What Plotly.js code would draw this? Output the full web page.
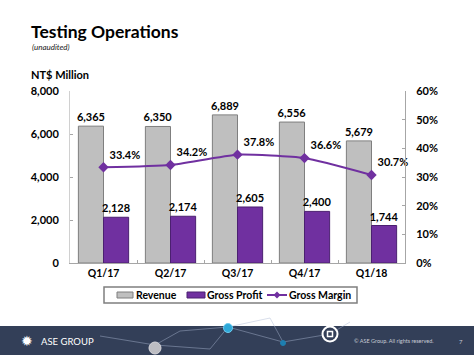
<!DOCTYPE html>
<html>
<head>
<meta charset="utf-8">
<script src="https://cdn.plot.ly/plotly-3.0.1.min.js"></script>
<style>html,body{margin:0;padding:0;background:#fff;}#chart{width:474px;height:355px;}</style>
</head>
<body>
<div id="chart"></div>
<script>
const quarters = ["Q1/17", "Q2/17", "Q3/17", "Q4/17", "Q1/18"];
const revenue = [6365, 6350, 6889, 6556, 5679];
const grossProfit = [2128, 2174, 2605, 2400, 1744];
const grossMargin = [0.334, 0.342, 0.378, 0.366, 0.307];
const seriesNames = ["Revenue", "Gross Profit", "Gross Margin"];

const W = 474, H = 355;
const M = {l: 70, r: 69, t: 91, b: 92};
const PW = W - M.l - M.r, PH = H - M.t - M.b;
function px(x) { return (x - M.l) / PW; }
function py(y) { return (H - M.b - y) / PH; }

const FONT = "Lato, 'Open Sans', sans-serif";
const GRAY = "#BFBFBF", GRAY_LINE = "#7F7F7F", PURPLE = "#7030A0", PURPLE_LINE = "#4B2070";

const traces = [
  {
    type: "bar", name: seriesNames[0], x: quarters, y: revenue,
    marker: {color: GRAY, line: {color: GRAY_LINE, width: 1}},
    text: revenue.map(v => v.toLocaleString("en-US")),
    textposition: "outside", constraintext: "none", cliponaxis: false,
    textfont: {family: FONT, size: 11, color: "#000", weight: 700},
    hoverinfo: "skip", showlegend: false
  },
  {
    type: "bar", name: seriesNames[1], x: quarters, y: grossProfit,
    marker: {color: PURPLE, line: {color: PURPLE_LINE, width: 1}},
    text: grossProfit.map(v => v.toLocaleString("en-US")),
    textposition: "outside", constraintext: "none", cliponaxis: false,
    textfont: {family: FONT, size: 11, color: "#000", weight: 700},
    hoverinfo: "skip", showlegend: false
  },
  {
    type: "scatter", mode: "lines+markers+text", name: seriesNames[2],
    x: quarters, y: grossMargin, yaxis: "y2",
    line: {color: PURPLE, width: 2, shape: "spline", smoothing: 0.5},
    marker: {symbol: "diamond", size: 8, color: PURPLE},
    text: grossMargin.map(v => (v * 100).toFixed(1) + "%"),
    textposition: "top right", cliponaxis: false,
    textfont: {family: FONT, size: 11, color: "#000", weight: 700},
    hoverinfo: "skip", showlegend: false
  }
];

function P(fn) { return Object.assign({xref: "paper", yref: "paper"}, fn); }

const shapes = [
  // footer band
  P({type: "rect", x0: px(0), x1: px(W), y0: py(326), y1: py(H + 2),
   fillcolor: "#333F58", line: {width: 0}, layer: "above"}),
  // legend box
  P({type: "rect", x0: px(104), x1: px(357), y0: py(303), y1: py(287),
   fillcolor: "#FFFFFF", line: {color: "#7F7F7F", width: 1.5}, layer: "above"}),
  P({type: "rect", x0: px(117), x1: px(133), y0: py(298), y1: py(292),
   fillcolor: GRAY, line: {color: GRAY_LINE, width: 1}, layer: "above"}),
  P({type: "rect", x0: px(187), x1: px(205), y0: py(298), y1: py(292),
   fillcolor: PURPLE, line: {color: PURPLE_LINE, width: 1}, layer: "above"}),
  P({type: "line", x0: px(267), x1: px(287), y0: py(295), y1: py(295),
   line: {color: PURPLE, width: 2}, layer: "above"}),
  P({type: "path", path: "M " + px(277) + "," + py(291.5) + " L " + px(280.5) + "," + py(295) + " L " + px(277) + "," + py(298.5) + " L " + px(273.5) + "," + py(295) + " Z",
   fillcolor: PURPLE, line: {color: PURPLE, width: 0}, layer: "above"})
];
const netLines = [[100,336,155,345],[155,345,180,331],[180,331,228,327],[155,345,210,349],[210,349,228,327],[228,327,283,342],[228,327,270,318],[283,342,330,334],[270,318,283,342],[330,334,350,322]];
netLines.forEach(l => shapes.push(P({type: "line",
  x0: px(l[0]), y0: py(l[1]), x1: px(l[2]), y1: py(l[3]), line: {color: "rgba(170,185,210,0.45)", width: 1}, layer: "above"})));
function circ(cx, cy, r, fill, lc, lw) {
  shapes.push(P({type: "circle",
    x0: px(cx - r), x1: px(cx + r), y0: py(cy + r), y1: py(cy - r),
    fillcolor: fill, line: {color: lc, width: lw}, layer: "above"}));
}
circ(155, 348, 6, "#BDBDC2", "#D5D5DA", 1);
circ(228, 328, 4.5, "#2EA8D8", "#6CCBEF", 1);
circ(283, 343, 2.5, "#1E7FB0", "#1E7FB0", 1);
circ(330, 334, 7.5, "#333F58", "#FFFFFF", 2);
shapes.push(P({type: "rect", x0: px(327.5), x1: px(332.5), y0: py(336.5), y1: py(331.5),
  fillcolor: "rgba(0,0,0,0)", line: {color: "#FFFFFF", width: 1.5}, layer: "above"}));

const LEG = {family: FONT, size: 10.5, color: "#000", weight: 700};
const annotations = [
  P({text: "<b>Testing Operations</b>", x: px(29), y: py(19),
   xanchor: "left", yanchor: "top", showarrow: false, font: {family: FONT, size: 17.5, color: "#000"}}),
  P({text: "<i>(unaudited)</i>", x: px(30), y: py(40),
   xanchor: "left", yanchor: "top", showarrow: false, font: {family: FONT, size: 8, color: "#222"}}),
  P({text: "<b>NT$ Million</b>", x: px(29), y: py(66),
   xanchor: "left", yanchor: "top", showarrow: false, font: {family: FONT, size: 11, color: "#000"}}),
  P({text: seriesNames[0], x: px(134), y: py(295), xanchor: "left", yanchor: "middle", showarrow: false, font: LEG}),
  P({text: seriesNames[1], x: px(205), y: py(295), xanchor: "left", yanchor: "middle", showarrow: false, font: LEG}),
  P({text: seriesNames[2], x: px(287), y: py(295), xanchor: "left", yanchor: "middle", showarrow: false, font: LEG}),
  P({text: "✹", x: px(27), y: py(341),
   xanchor: "center", yanchor: "middle", showarrow: false, font: {family: "DejaVu Sans", size: 14, color: "#FFFFFF"}}),
  P({text: "ASE GROUP", x: px(39), y: py(341),
   xanchor: "left", yanchor: "middle", showarrow: false, font: {family: FONT, size: 9.5, color: "#FFFFFF"}}),
  P({text: "© ASE Group. All rights reserved.", x: px(352), y: py(341),
   xanchor: "left", yanchor: "middle", showarrow: false, font: {family: FONT, size: 5.5, color: "#C8CCD6"}}),
  P({text: "7", x: px(461), y: py(341),
   xanchor: "center", yanchor: "middle", showarrow: false, font: {family: FONT, size: 6, color: "#C8CCD6"}})
];

const layout = {
  width: W, height: H,
  margin: M,
  paper_bgcolor: "#FFFFFF", plot_bgcolor: "#FFFFFF",
  font: {family: FONT, color: "#000"},
  barmode: "group", bargap: 0.25, bargroupgap: 0,
  showlegend: false,
  xaxis: {type: "category", showgrid: false, showline: true, linecolor: "#A6A6A6", linewidth: 1,
    ticks: "inside", tickson: "boundaries", ticklen: 3, tickcolor: "#A6A6A6",
    tickfont: {family: FONT, size: 10.5, color: "#000", weight: 700}, fixedrange: true},
  yaxis: {range: [0, 8000], dtick: 2000, tickformat: ",d", showgrid: false, zeroline: false,
    showline: true, linecolor: "#D0D0D0", ticks: "inside", ticklen: 3, tickcolor: "#A6A6A6",
    tickfont: {family: FONT, size: 11, color: "#000", weight: 700}, ticklabelstandoff: 8},
  yaxis2: {range: [0, 0.6], dtick: 0.1, tickformat: ".0%", overlaying: "y", side: "right",
    showgrid: false, zeroline: false, showline: true, linecolor: "#A6A6A6",
    ticks: "inside", ticklen: 3, tickcolor: "#A6A6A6",
    tickfont: {family: FONT, size: 11, color: "#000", weight: 700}, ticklabelstandoff: 8},
  shapes: shapes,
  annotations: annotations
};

Plotly.newPlot("chart", traces, layout, {displayModeBar: false, staticPlot: true});
</script>
</body>
</html>
